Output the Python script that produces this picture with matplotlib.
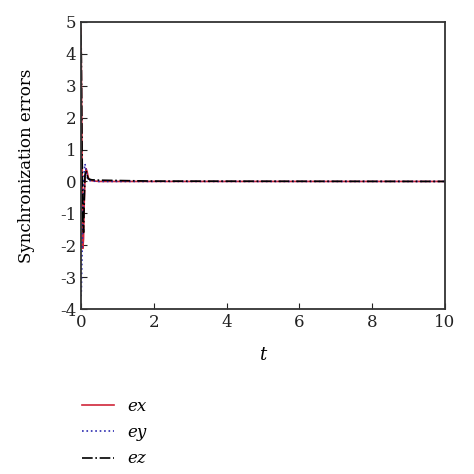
import matplotlib
matplotlib.use("Agg")
import matplotlib.pyplot as plt

t_ex = [0, 0.01, 0.03, 0.05, 0.07, 0.09, 0.11, 0.14, 0.17, 0.2, 0.25, 0.3, 0.5, 1, 10]
ex = [4.8, 3.5, 0.5, -2.1, -1.8, -0.6, 0.1, 0.4, 0.3, 0.12, 0.04, 0.02, 0.0, 0.0, 0.0]

t_ey = [0, 0.01, 0.03, 0.05, 0.07, 0.09, 0.11, 0.13, 0.16, 0.2, 0.3, 0.5, 1, 10]
ey = [-3.6, -3.4, -2.2, -1.0, -0.2, 0.35, 0.55, 0.4, 0.15, 0.04, 0.01, 0.0, 0.0, 0.0]

t_ez = [0, 0.01, 0.03, 0.05, 0.07, 0.09, 0.11, 0.14, 0.17, 0.2, 0.3, 0.5, 1, 2, 10]
ez = [4.6, 3.8, 1.0, -1.2, -1.6, -0.6, 0.2, 0.35, 0.2, 0.08, 0.05, 0.04, 0.03, 0.01, 0.0]

plt.rcParams["font.family"] = "DejaVu Serif"
plt.rcParams["axes.unicode_minus"] = False

fig = plt.figure(figsize=(4.74, 4.74), dpi=100)
ax = fig.add_axes([81 / 474, 1 - 309 / 474, 364 / 474, 287 / 474])

ax.plot(t_ex, ex, color="#d0263a", lw=1.2, ls="-", label="ex")
ax.plot(t_ey, ey, color="#2b2bb0", lw=1.2, ls=":", label="ey")
ax.plot(t_ez, ez, color="black", lw=1.2, ls="-.", label="ez")

ax.set_xlim(0, 10)
ax.set_ylim(-4, 5)
ax.set_xticks([0, 2, 4, 6, 8, 10])
ax.set_yticks(range(-4, 6))
ax.tick_params(direction="in", length=4, labelsize=12, colors="#222222")
for s in ax.spines.values():
    s.set_color("#333333")
    s.set_linewidth(1.3)

ax.set_xlabel("t", fontsize=13, style="italic", labelpad=11)
ax.set_ylabel("Synchronization errors", fontsize=12, labelpad=18)

h, l = ax.get_legend_handles_labels()
fig.legend(h, l, loc="upper left", bbox_to_anchor=(67 / 474, 1 - 383 / 474),
           frameon=False, handlelength=1.9, labelspacing=0.55,
           prop={"style": "italic", "size": 12})

fig.savefig("out.png", dpi=100)
